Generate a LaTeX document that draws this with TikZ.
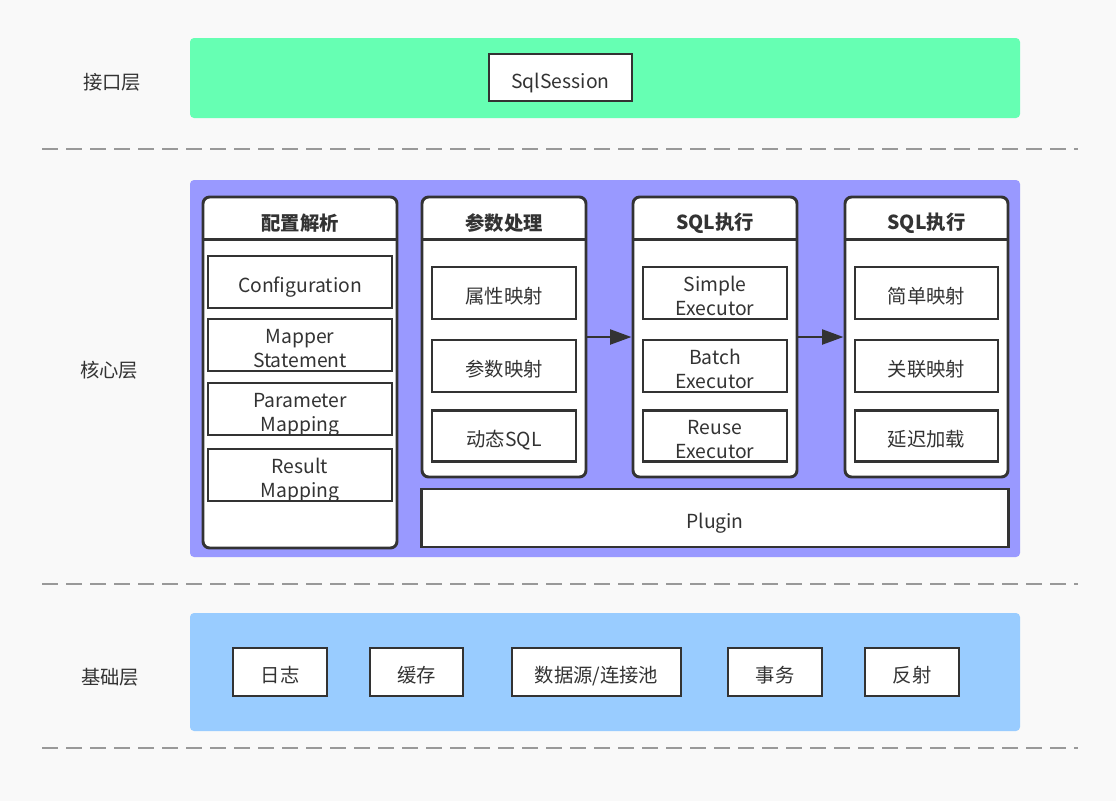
\documentclass[tikz,border=0pt]{standalone}
\usepackage{fontspec}
\setmainfont{Noto Sans CJK SC}
\usetikzlibrary{arrows.meta}
\definecolor{pagebg}{HTML}{F9F9F9}
\definecolor{ink}{HTML}{333333}
\definecolor{apigreen}{HTML}{66FFB3}
\definecolor{corepurple}{HTML}{9999FF}
\definecolor{baseblue}{HTML}{99CCFF}
\tikzset{
  band/.style={rounded corners=3pt, inner sep=0pt},
  sepline/.style={draw=black!40, line width=1.1pt, dash pattern=on 12pt off 6pt},
  layer/.style={text=ink, font=\fontsize{14.5}{18}\selectfont},
  item/.style={draw=ink, fill=white, line width=2.2pt, inner sep=0pt, align=center, text=ink, font=\fontsize{14.5}{18}\selectfont},
  oneline/.style={item, text height=16.2pt, text depth=0pt},
  twoline/.style={item, text height=33.2pt, text depth=0pt},
  column/.style={draw=ink, fill=white, line width=2.2pt, rounded corners=5pt, inner sep=0pt},
  title/.style={text=ink, font=\fontsize{14.5}{18}\selectfont\bfseries},
  flow/.style={draw=ink, line width=2.2pt, -{Triangle[length=16pt,width=11pt]}}
}
\begin{document}
\begin{tikzpicture}[x=0.75pt,y=-0.75pt]
\fill[pagebg] (0,0) rectangle (1116,801);
\useasboundingbox (0,0) rectangle (1116,801);
\node[band, fill=apigreen, minimum width=830*0.75pt, minimum height=80*0.75pt] (apiband) at (605,78){};
\node[band, fill=corepurple, minimum width=830*0.75pt, minimum height=377*0.75pt] (coreband) at (605,368.5){};
\node[band, fill=baseblue, minimum width=830*0.75pt, minimum height=118*0.75pt] (baseband) at (605,672){};
\draw[sepline] (42,149) -- (1078,149);
\draw[sepline] (42,584) -- (1078,584);
\draw[sepline] (42,748) -- (1078,748);
\node[layer] (lapi) at (112,82){接口层};
\node[layer] (lcore) at (109,370){核心层};
\node[layer] (lbase) at (110,677){基础层};
\node[oneline, minimum width=143*0.75pt, minimum height=47*0.75pt] (sqlsession) at (560.5,77.5){SqlSession};
\node[column, minimum width=194*0.75pt, minimum height=351*0.75pt] (conf) at (300,372.5){};
\node[column, minimum width=164*0.75pt, minimum height=280*0.75pt] (param) at (504,337){};
\node[column, minimum width=164*0.75pt, minimum height=280*0.75pt] (exec) at (715,337){};
\node[column, minimum width=163*0.75pt, minimum height=280*0.75pt] (result) at (926.5,337){};
\foreach \col/\txt in {conf/配置解析, param/参数处理, exec/SQL执行, result/SQL执行}{
  \draw[draw=ink, line width=2.2pt] ([yshift=-44*0.75pt]\col.north west) -- ([yshift=-44*0.75pt]\col.north east);
  \node[title] (\col title) at ([yshift=-27.5*0.75pt]\col.north){\txt};
}
\node[oneline, minimum width=184*0.75pt, minimum height=52*0.75pt] (configuration) at (300,282){Configuration};
\node[twoline, minimum width=184*0.75pt, minimum height=52*0.75pt] (mapperst) at (300,345){Mapper\\Statement};
\node[twoline, minimum width=184*0.75pt, minimum height=52*0.75pt] (parammap) at (300,409){Parameter\\Mapping};
\node[twoline, minimum width=184*0.75pt, minimum height=52*0.75pt] (resultmap) at (300,475){Result\\Mapping};
\node[oneline, minimum width=144*0.75pt, minimum height=52*0.75pt] (propmap) at (504,293){属性映射};
\node[oneline, minimum width=144*0.75pt, minimum height=52*0.75pt] (argmap) at (504,366){参数映射};
\node[oneline, minimum width=144*0.75pt, minimum height=51*0.75pt] (dynsql) at (504,436){动态SQL};
\node[twoline, minimum width=144*0.75pt, minimum height=52*0.75pt] (simpleex) at (715,293){Simple\\Executor};
\node[twoline, minimum width=144*0.75pt, minimum height=52*0.75pt] (batchex) at (715,366){Batch\\Executor};
\node[twoline, minimum width=144*0.75pt, minimum height=51*0.75pt] (reuseex) at (715,436){Reuse\\Executor};
\node[oneline, minimum width=143*0.75pt, minimum height=52*0.75pt] (simplemap) at (926.5,293){简单映射};
\node[oneline, minimum width=143*0.75pt, minimum height=52*0.75pt] (joinmap) at (926.5,366){关联映射};
\node[oneline, minimum width=143*0.75pt, minimum height=51*0.75pt] (lazyload) at (926.5,436){延迟加载};
\node[oneline, minimum width=587*0.75pt, minimum height=58*0.75pt] (plugin) at (715,518){Plugin};
\draw[flow](param) -- (exec);
\draw[flow](exec) -- (result);
\node[oneline, minimum width=94*0.75pt, minimum height=48*0.75pt] (logging) at (280,672){日志};
\node[oneline, minimum width=93*0.75pt, minimum height=48*0.75pt] (cache) at (416.5,672){缓存};
\node[oneline, minimum width=169*0.75pt, minimum height=48*0.75pt] (datasource) at (596.5,672){数据源/连接池};
\node[oneline, minimum width=94*0.75pt, minimum height=48*0.75pt] (transaction) at (775,672){事务};
\node[oneline, minimum width=94*0.75pt, minimum height=48*0.75pt] (reflection) at (912,672){反射};
\end{tikzpicture}
\end{document}
